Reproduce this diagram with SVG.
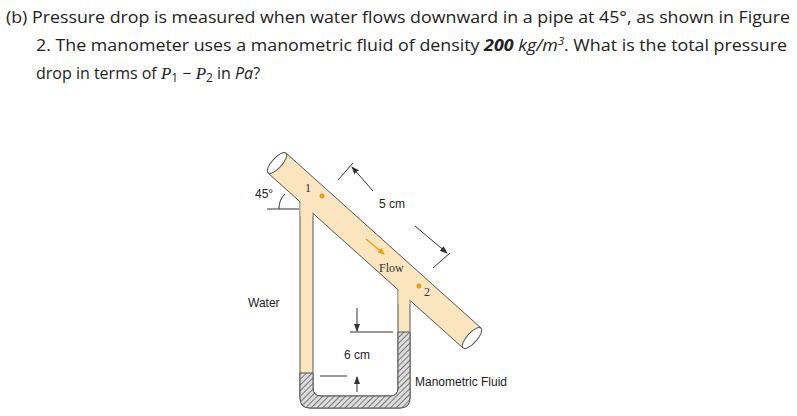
<svg xmlns="http://www.w3.org/2000/svg" width="797" height="416" viewBox="0 0 797 416">
<style>
.h{font-family:"Open Sans","Liberation Sans",sans-serif;font-size:16px;fill:#222}
.l{font-family:"Liberation Sans",Arial,sans-serif;font-size:12px;fill:#222}
.s{font-family:"Liberation Serif",serif;font-size:12px;fill:#333}
.ln{stroke:#333;stroke-width:1;fill:none}
.o{stroke:#555;stroke-width:1}
</style>
<defs>
<marker id="a" markerWidth="8" markerHeight="6" refX="7" refY="3" orient="auto" markerUnits="userSpaceOnUse"><path d="M0,0 L8,3 L0,6 Z" fill="#333"/></marker>
<marker id="f" markerWidth="7" markerHeight="6" refX="6" refY="3" orient="auto" markerUnits="userSpaceOnUse"><path d="M0,0 L7,3 L0,6 Z" fill="#e8a010"/></marker>
<pattern id="hatch" width="4" height="4" patternUnits="userSpaceOnUse" patternTransform="rotate(45)"><rect width="4" height="4" fill="#ddd"/><line x1="0" y1="0" x2="0" y2="4" stroke="#555" stroke-width="1.5"/></pattern>
</defs>
<rect width="797" height="416" fill="#fff"/>
<g id="question">
<text class="h" x="6" y="23" textLength="784" lengthAdjust="spacingAndGlyphs">(b) Pressure drop is measured when water flows downward in a pipe at 45°, as shown in Figure</text>
<text class="h" x="36" y="51" textLength="751" lengthAdjust="spacingAndGlyphs">2. The manometer uses a manometric fluid of density <tspan font-weight="bold" font-style="italic">200</tspan> <tspan font-style="italic">kg/m</tspan><tspan font-style="italic" font-size="10" dy="-6">3</tspan><tspan dy="6">.  What is the total pressure</tspan></text>
<text class="h" x="36" y="79">drop in terms of <tspan font-family="Liberation Serif" font-style="italic" font-size="17">P</tspan><tspan font-size="12" dy="3">1</tspan><tspan dy="-3"> − </tspan><tspan font-family="Liberation Serif" font-style="italic" font-size="17">P</tspan><tspan font-size="12" dy="3">2</tspan><tspan dy="-3">  in </tspan><tspan font-style="italic">Pa</tspan>?</text>
</g>
<g id="manometer">
<path d="M300,202 L300,398 Q300,408 310,408 L400,408 Q410,408 410,398 L410,301 L398,290 L398,388 Q398,396 390,396 L321,396 Q313,396 313,388 L313,214 Z" fill="#fae5bf" class="o"/>
<path d="M300,373 L300,398 Q300,408 310,408 L400,408 Q410,408 410,398 L410,332 L398,332 L398,388 Q398,396 390,396 L321,396 Q313,396 313,388 L313,373 Z" fill="url(#hatch)" class="o"/>
</g>
<g id="pipe">
<path d="M286,153 L481,328 L463,348 L268,173 Z" fill="#fae5bf" class="o"/>
<ellipse cx="277" cy="163" rx="5" ry="13.4" transform="rotate(42 277 163)" fill="#fff" class="o"/>
<ellipse cx="472" cy="338" rx="5" ry="13.4" transform="rotate(42 472 338)" fill="#fff" class="o"/>
<rect x="300.5" y="198" width="12" height="18" fill="#fae5bf"/>
<rect x="398.5" y="286" width="11" height="18" fill="#fae5bf"/>
<circle cx="322" cy="196" r="2.5" fill="#e8a010"/>
<circle cx="419" cy="286" r="2.5" fill="#e8a010"/>
<text class="s" x="305" y="192">1</text>
<text class="s" x="424" y="296">2</text>
<text class="s" x="379" y="272">Flow</text>
</g>
<g id="connectors">
<line x1="366" y1="239" x2="384" y2="254" stroke="#e8a010" stroke-width="1.5" marker-end="url(#f)"/>
<line class="ln" x1="338" y1="180" x2="353" y2="163"/>
<line class="ln" x1="433" y1="268" x2="450" y2="253"/>
<line class="ln" x1="373" y1="191" x2="352" y2="167" marker-end="url(#a)"/>
<line class="ln" x1="415" y1="226" x2="447" y2="253" marker-end="url(#a)"/>
<line class="ln" x1="350" y1="332" x2="393" y2="332"/>
<line class="ln" x1="320" y1="376" x2="347" y2="376"/>
<line class="ln" x1="357" y1="308" x2="357" y2="331" marker-end="url(#a)"/>
<line class="ln" x1="357" y1="392" x2="357" y2="377" marker-end="url(#a)"/>
<line class="ln" x1="267" y1="209" x2="299" y2="209"/>
<path class="ln" d="M279,209 A20,20 0 0 1 285,194"/>
</g>
<g id="labels">
<text class="l" x="255" y="198">45°</text>
<text class="l" x="379" y="208">5 cm</text>
<text class="l" x="344" y="359">6 cm</text>
<text class="l" x="248" y="307">Water</text>
<text class="l" x="415" y="386">Manometric Fluid</text>
</g>
</svg>
